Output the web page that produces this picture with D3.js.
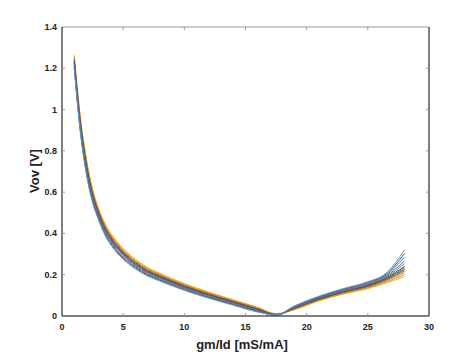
<!DOCTYPE html>
<html>
<head>
<meta charset="utf-8">
<script src="https://cdn.jsdelivr.net/npm/d3@7"></script>
<style>
  body { margin: 0; background: #fff; }
  text { font-family: Arial, "Liberation Sans", sans-serif; }
</style>
</head>
<body>
<div id="chart"></div>
<script>
let width = 474,
  height = 355;

// gm/Id sweep points (mS/mA)
let gmId = [1, 1.5, 2, 2.5, 3, 3.5, 4, 5, 6, 7, 8, 10, 12, 14, 16, 17.5, 19, 21, 23, 25, 26.5, 28];

// Vov [V], one array per Monte Carlo run
let run1  = [1.265, 0.965, 0.76, 0.615, 0.52, 0.45, 0.40, 0.328, 0.275, 0.235, 0.207, 0.158, 0.116, 0.079, 0.042, 0.012, 0.03, 0.073, 0.106, 0.132, 0.16, 0.19];
let run2  = [1.258, 0.957, 0.752, 0.608, 0.514, 0.444, 0.394, 0.322, 0.27, 0.231, 0.203, 0.154, 0.113, 0.076, 0.04, 0.01, 0.032, 0.075, 0.109, 0.136, 0.165, 0.20];
let run3  = [1.251, 0.949, 0.744, 0.601, 0.508, 0.438, 0.388, 0.317, 0.265, 0.226, 0.199, 0.151, 0.11, 0.073, 0.037, 0.009, 0.034, 0.078, 0.112, 0.139, 0.17, 0.21];
let run4  = [1.246, 0.943, 0.738, 0.596, 0.504, 0.434, 0.384, 0.313, 0.261, 0.223, 0.196, 0.148, 0.107, 0.071, 0.035, 0.008, 0.036, 0.08, 0.114, 0.142, 0.174, 0.218];
let run5  = [1.241, 0.937, 0.732, 0.59, 0.499, 0.429, 0.379, 0.308, 0.258, 0.22, 0.193, 0.145, 0.105, 0.069, 0.034, 0.007, 0.037, 0.081, 0.116, 0.145, 0.178, 0.225];
let run6  = [1.235, 0.931, 0.726, 0.585, 0.495, 0.425, 0.375, 0.304, 0.254, 0.216, 0.19, 0.143, 0.102, 0.067, 0.032, 0.006, 0.039, 0.083, 0.118, 0.147, 0.181, 0.232];
let run7  = [1.23, 0.925, 0.72, 0.58, 0.49, 0.42, 0.37, 0.30, 0.25, 0.213, 0.187, 0.14, 0.10, 0.065, 0.03, 0.005, 0.04, 0.085, 0.12, 0.15, 0.185, 0.24];
let run8  = [1.225, 0.919, 0.714, 0.575, 0.486, 0.416, 0.366, 0.296, 0.246, 0.21, 0.184, 0.137, 0.098, 0.063, 0.028, 0.004, 0.042, 0.087, 0.122, 0.153, 0.189, 0.254];
let run9  = [1.22, 0.913, 0.708, 0.57, 0.481, 0.411, 0.361, 0.292, 0.243, 0.206, 0.181, 0.135, 0.095, 0.061, 0.026, 0.003, 0.043, 0.089, 0.124, 0.155, 0.193, 0.267];
let run10 = [1.213, 0.905, 0.70, 0.563, 0.475, 0.405, 0.355, 0.286, 0.238, 0.202, 0.177, 0.131, 0.092, 0.058, 0.024, 0.003, 0.045, 0.091, 0.127, 0.159, 0.198, 0.285];
let run11 = [1.206, 0.897, 0.692, 0.556, 0.469, 0.399, 0.349, 0.28, 0.233, 0.198, 0.173, 0.127, 0.089, 0.055, 0.022, 0.004, 0.047, 0.093, 0.13, 0.163, 0.203, 0.303];
let run12 = [1.199, 0.889, 0.684, 0.549, 0.463, 0.393, 0.343, 0.275, 0.228, 0.193, 0.169, 0.124, 0.086, 0.052, 0.019, 0.005, 0.049, 0.096, 0.133, 0.166, 0.208, 0.32];

let runs = [run1, run2, run3, run4, run5, run6, run7, run8, run9, run10, run11, run12];
let runColors = ['#FFC000', '#ED7D31', '#A5A5A5', '#997300', '#9E480E', '#636363',
                 '#264478', '#7F7F7F', '#4472C4', '#C55A11', '#255E91', '#5B9BD5'];

let xTicks = [0, 5, 10, 15, 20, 25, 30];
let yTicks = [0, 0.2, 0.4, 0.6, 0.8, 1, 1.2, 1.4];

let margin = {top: 27, right: 45, bottom: 39, left: 62};
let plotW = width - margin.left - margin.right,
  plotH = height - margin.top - margin.bottom;

let svg = d3.select("#chart")
  .append("svg")
  .attr("width", width)
  .attr("height", height);

let x = d3.scaleLinear()
  .domain([0, 30])
  .range([margin.left, margin.left + plotW]);

let y = d3.scaleLinear()
  .domain([0, 1.4])
  .range([margin.top + plotH, margin.top]);

// curves
let line = d3.line()
  .x((d, i) => x(gmId[i]))
  .y(d => y(d))
  .curve(d3.curveMonotoneX);

svg.append("g")
  .selectAll("path")
  .data(runs)
  .join("path")
  .attr("fill", "none")
  .attr("stroke", (d, i) => runColors[i])
  .attr("stroke-width", 1)
  .attr("d", line);

// box
let x0 = x(0), x1 = x(30), y0 = y(0), y1 = y(1.4);
svg.append("line").attr("x1", x0).attr("x2", x1).attr("y1", y1).attr("y2", y1)
  .attr("stroke", "#bbb").attr("stroke-width", 1.5);
svg.append("line").attr("x1", x1).attr("x2", x1).attr("y1", y1).attr("y2", y0)
  .attr("stroke", "#555").attr("stroke-width", 1.5);
svg.append("line").attr("x1", x0).attr("x2", x0).attr("y1", y1).attr("y2", y0)
  .attr("stroke", "#555").attr("stroke-width", 1.5);
svg.append("line").attr("x1", x0).attr("x2", x1).attr("y1", y0).attr("y2", y0)
  .attr("stroke", "#555").attr("stroke-width", 1.5);

// inward ticks, all four sides
let ticks = svg.append("g").attr("stroke", "#999").attr("stroke-width", 1);
for (let t of xTicks.slice(1, -1)) {
  ticks.append("line").attr("x1", x(t)).attr("x2", x(t)).attr("y1", y0).attr("y2", y0 - 3);
  ticks.append("line").attr("x1", x(t)).attr("x2", x(t)).attr("y1", y1).attr("y2", y1 + 3);
}
for (let t of yTicks.slice(1, -1)) {
  ticks.append("line").attr("x1", x0).attr("x2", x0 + 3).attr("y1", y(t)).attr("y2", y(t));
  ticks.append("line").attr("x1", x1).attr("x2", x1 - 3).attr("y1", y(t)).attr("y2", y(t));
}

// tick labels
svg.append("g")
  .selectAll("text")
  .data(xTicks)
  .join("text")
  .attr("x", d => x(d))
  .attr("y", y0 + 14)
  .attr("text-anchor", "middle")
  .attr("font-size", 9)
  .attr("font-weight", "bold")
  .attr("fill", "#222")
  .text(d => d);

svg.append("g")
  .selectAll("text")
  .data(yTicks)
  .join("text")
  .attr("x", x0 - 5)
  .attr("y", d => y(d) + 3)
  .attr("text-anchor", "end")
  .attr("font-size", 9)
  .attr("font-weight", "bold")
  .attr("fill", "#222")
  .text(d => d);

// titles
svg.append("text")
  .attr("x", 242)
  .attr("y", 349)
  .attr("text-anchor", "middle")
  .attr("font-size", 13)
  .attr("font-weight", "bold")
  .attr("fill", "#222")
  .text("gm/Id [mS/mA]");

svg.append("text")
  .attr("transform", "translate(39,171) rotate(-90)")
  .attr("text-anchor", "middle")
  .attr("font-size", 13)
  .attr("font-weight", "bold")
  .attr("fill", "#222")
  .text("Vov [V]");
</script>
</body>
</html>
